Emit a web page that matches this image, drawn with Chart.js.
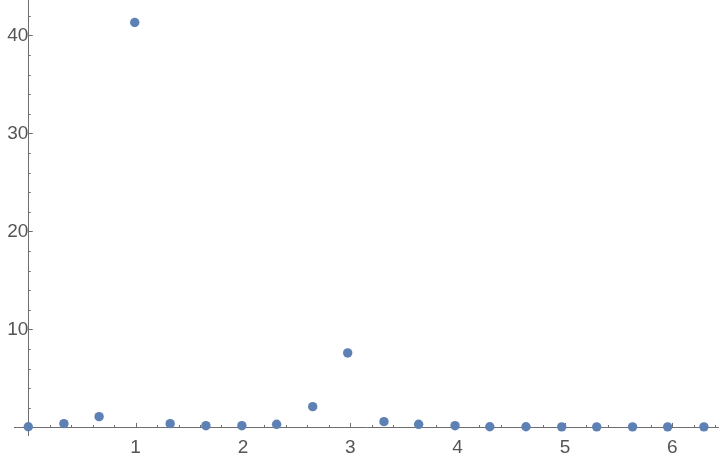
<!DOCTYPE html>
<html>
<head>
<meta charset="utf-8">
<script src="https://cdn.jsdelivr.net/npm/chart.js@4.4.0/dist/chart.umd.min.js"></script>
<style>
  html, body { margin: 0; padding: 0; background: #fff; }
  #wrap { width: 720px; height: 458px; position: relative; }
</style>
</head>
<body>
<div id="wrap"><canvas id="c"></canvas></div>
<script>
const xValues = [0, 0.332, 0.660, 0.992, 1.322, 1.655, 1.990, 2.314, 2.650, 2.976,
                 3.314, 3.637, 3.976, 4.300, 4.637, 4.970, 5.296, 5.630, 5.957, 6.295];
const yValues = [0.07, 0.39, 1.10, 41.3, 0.39, 0.18, 0.18, 0.32, 2.12, 7.6,
                 0.59, 0.32, 0.18, 0.07, 0.07, 0.06, 0.06, 0.06, 0.06, 0.06];
const xTickLabels = [1, 2, 3, 4, 5, 6];
const yTickLabels = [10, 20, 30, 40];
const xMinorStep = 0.2;
const yMinorStep = 2;

const axisColor = '#6e6e6e';
const labelColor = '#555555';
const labelFont = { family: '"Liberation Sans", Arial, sans-serif', size: 19 };

const points = xValues.map((x, i) => ({ x: x, y: yValues[i] }));

function zeroPadding(s) {
  s.paddingTop = 0; s.paddingBottom = 0; s.paddingLeft = 0; s.paddingRight = 0;
}

const inwardTicks = {
  id: 'inwardTicks',
  beforeDatasetsDraw(chart) {
    const ctx = chart.ctx;
    const xs = chart.scales.x, ys = chart.scales.y;
    const x0 = xs.getPixelForValue(0);
    const y0 = ys.getPixelForValue(0);
    ctx.save();
    ctx.strokeStyle = axisColor;
    ctx.lineWidth = 1;
    ctx.beginPath();
    for (let k = 1; ; k++) {
      const v = k * xMinorStep;
      if (v > xs.max) break;
      const px = Math.round(xs.getPixelForValue(v)) + 0.5;
      const major = Math.abs(v - Math.round(v)) < 1e-6;
      const len = major ? 4.5 : 2.5;
      ctx.moveTo(px, y0);
      ctx.lineTo(px, y0 - len);
    }
    for (let k = 1; ; k++) {
      const v = k * yMinorStep;
      if (v > ys.max) break;
      const py = Math.round(ys.getPixelForValue(v)) + 0.5;
      const major = v % 10 === 0;
      const len = major ? 4.5 : 2.5;
      ctx.moveTo(x0, py);
      ctx.lineTo(x0 + len, py);
    }
    ctx.stroke();
    ctx.restore();
  }
};

new Chart(document.getElementById('c'), {
  type: 'scatter',
  data: {
    datasets: [{
      data: points,
      backgroundColor: 'rgb(94,129,181)',
      borderWidth: 0,
      pointRadius: 4.7,
      pointHoverRadius: 4.7,
      clip: false
    }]
  },
  options: {
    responsive: true,
    maintainAspectRatio: false,
    animation: false,
    events: [],
    layout: { autoPadding: false, padding: { left: 14, right: 2, top: 0, bottom: 23 } },
    plugins: { legend: { display: false }, tooltip: { enabled: false } },
    scales: {
      x: {
        type: 'linear',
        position: { y: 0 },
        min: -0.133,
        max: 6.426,
        afterBuildTicks: (s) => { s.ticks = xTickLabels.map(v => ({ value: v })); },
        afterFit: zeroPadding,
        grid: { display: false, drawTicks: false },
        border: { display: true, color: axisColor, width: 1 },
        ticks: { color: labelColor, font: labelFont, padding: 9, maxRotation: 0, autoSkip: false }
      },
      y: {
        type: 'linear',
        position: { x: 0 },
        min: -0.77,
        max: 43.6,
        afterBuildTicks: (s) => { s.ticks = yTickLabels.map(v => ({ value: v })); },
        afterFit: zeroPadding,
        grid: { display: false, drawTicks: false },
        border: { display: true, color: axisColor, width: 1 },
        ticks: { color: labelColor, font: labelFont, padding: 6, autoSkip: false }
      }
    }
  },
  plugins: [inwardTicks]
});
</script>
</body>
</html>
